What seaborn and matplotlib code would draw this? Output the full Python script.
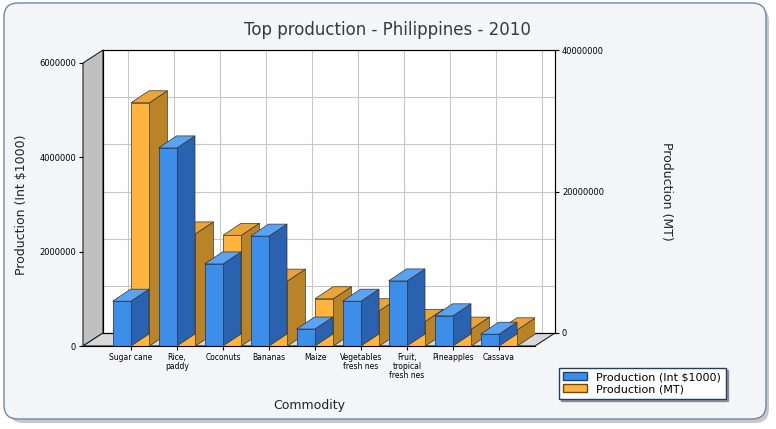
import matplotlib
matplotlib.use("Agg")
import matplotlib.pyplot as plt
import matplotlib.patches as mpatches
from matplotlib.transforms import IdentityTransform
import seaborn as sns
import pandas as pd

categories = ["Sugar cane", "Rice,\npaddy", "Coconuts", "Bananas", "Maize",
              "Vegetables\nfresh nes", "Fruit,\ntropical\nfresh nes", "Pineapples", "Cassava"]
value_int1000 = [950000, 4200000, 1740000, 2330000, 360000, 950000, 1380000, 640000, 250000]
production_mt = [34500000, 15900000, 15700000, 9200000, 6700000, 5000000, 3500000, 2400000, 2300000]

W, H = 776, 429
DX, DY = 18, 12  # bar depth in pixels
WX, WY = 20, 13  # wall depth in pixels
BLUE = ("#3d8ee8", "#5aa2f2", "#2a62b0")
ORANGE = ("#ffb43e", "#e9a43a", "#b98328")

def fpos(x0, y0, x1, y1):
    return [x0 / W, 1 - y1 / H, (x1 - x0) / W, (y1 - y0) / H]

fig = plt.figure(figsize=(W / 100, H / 100), dpi=100)
fig.patch.set_facecolor("white")

# background overlay in pixel coords
bg = fig.add_axes([0, 0, 1, 1], zorder=0)
bg.set_xlim(0, W); bg.set_ylim(H, 0); bg.axis("off")
bg.add_patch(mpatches.FancyBboxPatch((9, 7), 760, 416, boxstyle="round,pad=0,rounding_size=14",
                                     facecolor="#c8c8c8", edgecolor="none"))
bg.add_patch(mpatches.FancyBboxPatch((4, 3), 762, 416, boxstyle="round,pad=0,rounding_size=14",
                                     facecolor="#f4f5f7", edgecolor="#6f86a8", lw=1))
# left wall and floor
bg.add_patch(mpatches.Polygon([(83, 346), (83 + WX, 346 - WY), (83 + WX, 63 - WY), (83, 63)],
                              facecolor="#c0c0c0", edgecolor="#222", lw=0.8))
bg.add_patch(mpatches.Polygon([(83, 346), (83 + WX, 346 - WY), (535 + WX, 346 - WY), (535, 346)],
                              facecolor="#d8d8d8", edgecolor="#222", lw=0.8))

xlim = (-48 / 46, 404 / 46)

# back wall
back = fig.add_axes(fpos(83 + WX, 63 - WY, 535 + WX, 346 - WY), zorder=1)
back.set_facecolor("white")
back.set_xlim(xlim); back.set_ylim(0, 6000000)
back.set_xticks([i + 0.5 for i in range(-1, 9)])
back.set_yticks(range(0, 6000001, 1000000))
back.grid(True, color="#c8c8c8", lw=0.8)
for s in back.spines.values():
    s.set_color("#222"); s.set_linewidth(0.8)
back_r = back.twinx()
back.tick_params(left=False, bottom=False, labelleft=False, labelbottom=False)
back_r.set_ylim(0, 40000000)
back_r.set_yticks([0, 20000000, 40000000])
back_r.set_yticklabels(["0", "20000000", "40000000"], fontsize=6)
back_r.tick_params(length=3, pad=2)
back_r.set_ylabel("Production (MT)", rotation=-90, fontsize=9, labelpad=50, color="#222")

# front axes
ax = fig.add_axes(fpos(83, 63, 535, 346), zorder=4)
ax.patch.set_alpha(0)
df = pd.DataFrame({"Commodity": categories, "v1": value_int1000, "v2": production_mt})
sns.barplot(data=df, x="Commodity", y="v1", ax=ax, width=0.4, color=BLUE[0],
            edgecolor="#1e3f70", linewidth=0.6, saturation=1)
ax.set_xlim(xlim); ax.set_ylim(0, 6000000)
ax.set_yticks([0, 2000000, 4000000, 6000000])
ax.set_yticklabels(["0", "2000000", "4000000", "6000000"], fontsize=6)
ax.set_xticks(range(len(categories)))
ax.set_xticklabels(categories, fontsize=5.5, linespacing=1.0)
ax.tick_params(length=3, pad=2)
ax.set_xlabel("Commodity", fontsize=9, color="#222", labelpad=14)
ax.set_ylabel("Production (Int $1000)", fontsize=9, color="#222", labelpad=8)

# orange series on its own scale, drawn behind the blue bars
ax2 = fig.add_axes(fpos(83, 63, 535, 346), zorder=3)
ax2.patch.set_alpha(0)
sns.barplot(data=df, x="Commodity", y="v2", ax=ax2, width=0.4, color=ORANGE[0],
            edgecolor="#6a4a10", linewidth=0.6, saturation=1)
ax2.set_xlim(xlim); ax2.set_ylim(0, 40000000 * 283 / 282)
ax2.axis("off")
for s in ["top", "right", "left"]:
    ax.spines[s].set_visible(False)

def add_depth(a, shift, cols):
    for p in list(a.patches):
        p.set_x(p.get_x() + shift)
        x0, w, h = p.get_x(), p.get_width(), p.get_height()
        (px0, py0) = a.transData.transform((x0, 0))
        (px1, py1) = a.transData.transform((x0 + w, h))
        top = [(px0, py1), (px1, py1), (px1 + DX, py1 + DY), (px0 + DX, py1 + DY)]
        side = [(px1, py0), (px1 + DX, py0 + DY), (px1 + DX, py1 + DY), (px1, py1)]
        for poly, c in [(side, cols[2]), (top, cols[1])]:
            a.add_patch(mpatches.Polygon(poly, closed=True, transform=IdentityTransform(),
                                         facecolor=c, edgecolor="#333", lw=0.5, zorder=1))
        p.set_zorder(2)

add_depth(ax, -0.2, BLUE)
add_depth(ax2, 0.2, ORANGE)

fig.text(387 / W, 1 - 30 / H, "Top production - Philippines - 2010", ha="center", va="center",
         fontsize=12, color="#3a3a3a")

handles = [mpatches.Patch(facecolor=BLUE[0], edgecolor="#1e3f70", label="Production (Int $1000)"),
           mpatches.Patch(facecolor=ORANGE[0], edgecolor="#6a4a10", label="Production (MT)")]
leg = fig.legend(handles=handles, loc="upper left", bbox_to_anchor=(553 / W, 1 - 362 / H),
                 fontsize=8, frameon=True, fancybox=False, borderpad=0.4, handlelength=2.2,
                 labelspacing=0.2, edgecolor="#1f3b70", shadow=True)
leg.get_frame().set_linewidth(1)

fig.savefig("out.png", dpi=100)
